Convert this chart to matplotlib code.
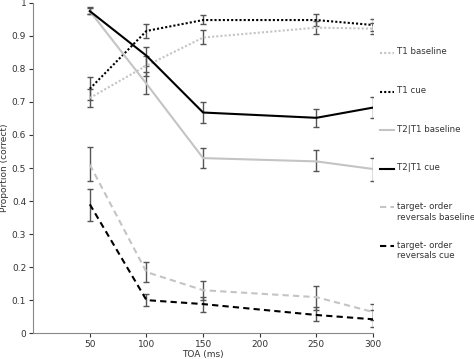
import matplotlib.pyplot as plt
from matplotlib.lines import Line2D
import numpy as np

toa = [50, 100, 150, 250, 300]

t1_base = [0.712, 0.81, 0.895, 0.925, 0.922]
t1_base_lo = [0.685, 0.78, 0.875, 0.905, 0.905]
t1_base_hi = [0.74, 0.84, 0.918, 0.945, 0.938]

t1_cue = [0.74, 0.915, 0.948, 0.948, 0.933]
t1_cue_lo = [0.705, 0.895, 0.935, 0.93, 0.915]
t1_cue_hi = [0.775, 0.935, 0.962, 0.965, 0.95]

t2_base = [0.975, 0.755, 0.53, 0.52, 0.497]
t2_base_lo = [0.965, 0.725, 0.50, 0.49, 0.46]
t2_base_hi = [0.985, 0.79, 0.56, 0.555, 0.53]

t2_cue = [0.975, 0.84, 0.668, 0.652, 0.683]
t2_cue_lo = [0.965, 0.81, 0.635, 0.625, 0.65]
t2_cue_hi = [0.988, 0.865, 0.70, 0.68, 0.715]

rev_base = [0.51, 0.185, 0.13, 0.109, 0.064]
rev_base_lo = [0.46, 0.155, 0.10, 0.07, 0.04]
rev_base_hi = [0.565, 0.215, 0.158, 0.142, 0.088]

rev_cue = [0.39, 0.10, 0.088, 0.055, 0.042]
rev_cue_lo = [0.34, 0.083, 0.065, 0.036, 0.02]
rev_cue_hi = [0.435, 0.12, 0.11, 0.08, 0.07]

series = [
    ("T1 baseline", t1_base, t1_base_lo, t1_base_hi, "#c4c4c4", (0, (1, 1))),
    ("T1 cue", t1_cue, t1_cue_lo, t1_cue_hi, "black", (0, (1, 1))),
    ("T2|T1 baseline", t2_base, t2_base_lo, t2_base_hi, "#c4c4c4", "-"),
    ("T2|T1 cue", t2_cue, t2_cue_lo, t2_cue_hi, "black", "-"),
    ("target- order\nreversals baseline", rev_base, rev_base_lo, rev_base_hi, "#c4c4c4", (0, (3, 2))),
    ("target- order\nreversals cue", rev_cue, rev_cue_lo, rev_cue_hi, "black", (0, (3, 2))),
]

fs = 6.2
W, H = 474, 359
fig = plt.figure(figsize=(W / 100, H / 100), dpi=100)
ax = fig.add_axes([0.07, 0.072, 0.717, 0.92])

for label, y, lo, hi, col, ls in series:
    y = np.array(y)
    err = [y - np.array(lo), np.array(hi) - y]
    ax.errorbar(toa, y, yerr=err, color=col, ls=ls, lw=1.5, ecolor="#555555",
                elinewidth=1, capsize=2, capthick=1, label=label)

ax.set_xlim(0, 300)
ax.set_ylim(0, 1)
ax.set_xticks([50, 100, 150, 200, 250, 300])
ax.set_yticks(np.arange(0, 1.01, 0.1))
ax.set_yticklabels(["0", "0.1", "0.2", "0.3", "0.4", "0.5", "0.6", "0.7", "0.8", "0.9", "1"])
ax.tick_params(labelsize=6.5, colors="#333333", length=3, width=0.8, pad=2)
for s in ["top", "right"]:
    ax.spines[s].set_visible(False)
for s in ["left", "bottom"]:
    ax.spines[s].set_color("#888888")
ax.set_xlabel("TOA (ms)", fontsize=6.5, color="#333333", labelpad=1)
ax.set_ylabel("Proportion (correct)", fontsize=6.5, color="#333333", labelpad=2)

# legend drawn by hand so the handle sits on the first text line
for i, (label, _, _, _, col, ls) in enumerate(series):
    yp = 1 - (53 + 38.6 * i) / H
    fig.add_artist(Line2D([380 / W, 394 / W], [yp, yp], color=col, ls=ls, lw=1.5))
    fig.text(397 / W, yp + 5.5 / H, label, fontsize=fs, color="#333333",
             va="top", ha="left", linespacing=1.25)

fig.savefig("out.png", dpi=100)
